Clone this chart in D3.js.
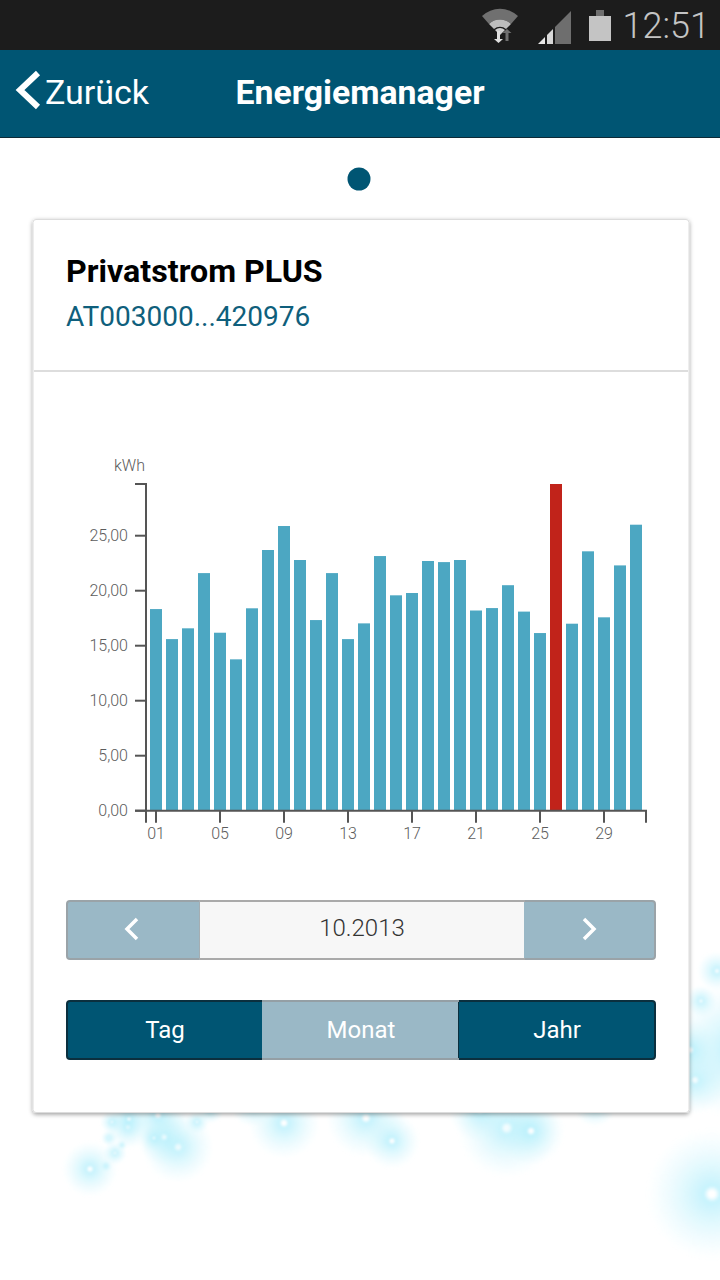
<!DOCTYPE html>
<html><head><meta charset="utf-8">
<script src="https://cdnjs.cloudflare.com/ajax/libs/d3/7.8.5/d3.min.js"></script>
<style>
html,body{margin:0;padding:0;background:#fff;overflow:hidden}
svg{display:block}
text{font-family:Roboto,sans-serif}
</style></head><body>
<script>
const days = ["01","02","03","04","05","06","07","08","09","10","11","12","13","14","15","16","17","18","19","20","21","22","23","24","25","26","27","28","29","30","31"];
const kwh = [18.33,15.6,16.58,21.6,16.18,13.76,18.4,23.7,25.88,22.79,17.33,21.6,15.6,17.03,23.15,19.58,19.79,22.7,22.6,22.79,18.2,18.42,20.5,18.1,16.15,29.7,17.0,23.58,17.58,22.3,26.0];
const peakDay = "26";
const xTickLabels = ["01","05","09","13","17","21","25","29"];
const yTickValues = [0,5,10,15,20,25];
const yMax = 29.7;

const BLUE="#005573", PALE="#9ab8c6", BAR="#4ca7c2", RED="#c1231a", AXIS="#555555";
const svg=d3.select("body").append("svg").attr("width",720).attr("height",1280);
const defs=svg.append("defs");
const grad=defs.append("radialGradient").attr("id","glow");
[[0,"#ffffff",1],[0.05,"#ffffff",.9],[0.13,"#b0eefc",.7],[0.5,"#c2f2fc",.42],[1,"#d8f7fd",0]].forEach(s=>
  grad.append("stop").attr("offset",s[0]).attr("stop-color",s[1]).attr("stop-opacity",s[2]));
const sh=defs.append("filter").attr("id","shadow").attr("x","-5%").attr("y","-5%").attr("width","110%").attr("height","110%");
sh.append("feDropShadow").attr("dx",0).attr("dy",1.5).attr("stdDeviation",2).attr("flood-color","#000").attr("flood-opacity",.38);
const soft=defs.append("filter").attr("id","soft").attr("filterUnits","userSpaceOnUse").attr("x",0).attr("y",900).attr("width",720).attr("height",380);
soft.append("feGaussianBlur").attr("stdDeviation",1.2);

// background glows (decoration behind the card)
const glows=[[90,1169,28],[106,1166,6],[115,1153,12],[109,1138,8],[122,1145,5],[178,1147,36],[164,1137,28],[154,1138,14],[128,1127,22],[129,1119,18],[112,1122,12],[158,1115,30],[197,1122,12],[210,1110,14],[284,1123,36],[252,1105,22],[366,1118,40],[392,1141,28],[507,1128,50],[531,1131,34],[480,1110,32],[595,1105,22],[712,1194,66],[717,971,20],[701,1001,16],[695,1080,34],[735,1050,68],[690,1050,30]];
svg.append("g").attr("filter","url(#soft)").selectAll("circle").data(glows).join("circle")
  .attr("cx",d=>d[0]).attr("cy",d=>d[1]).attr("r",d=>d[2]).attr("fill","url(#glow)");

// status bar
svg.append("rect").attr("width",720).attr("height",50).attr("fill","#1c1c1c");
const st=svg.append("g");
st.append("path").attr("d","M482 16 A26 26 0 0 1 518 16 L511 24 A16 16 0 0 0 489 24 Z").attr("fill","#707070");
st.append("path").attr("d","M489 24 A16 16 0 0 1 511 24 L506 29 A9 9 0 0 0 494 29 Z").attr("fill","#bdbdbd");
st.append("path").attr("d","M495 30 A8 8 0 0 1 505 30 L500 35 Z").attr("fill","#d0d0d0");
st.append("path").attr("d","M497 31 h3 v8 h3 l-4.500 4 l-4.500 -4 h3 z").attr("fill","#e0e0e0");
st.append("path").attr("d","M507 29 l4.500 4 h-3 v8 h-3 v-8 h-3 z").attr("fill","#707070");
st.append("path").attr("d","M538 44 L545 37 V44 Z").attr("fill","#e8e8e8");
st.append("path").attr("d","M547 35 L553 29 V44 H547 Z").attr("fill","#d8d8d8");
st.append("path").attr("d","M555 27 L571 11 V44 H555 Z").attr("fill","#6e6e6e");
st.append("rect").attr("x",589).attr("y",16).attr("width",22).attr("height",25).attr("fill","#c4c4c4");
st.append("rect").attr("x",596).attr("y",10).attr("width",8).attr("height",6).attr("fill","#6e6e6e");
st.append("text").attr("x",710).attr("y",38).attr("text-anchor","end").attr("font-size",36).attr("font-weight",300).attr("fill","#c4c4c4").text("12:51");

// title bar
svg.append("rect").attr("y",50).attr("width",720).attr("height",87).attr("fill",BLUE);
svg.append("rect").attr("y",137).attr("width",720).attr("height",1).attr("fill","#0d2a36");
svg.append("path").attr("d","M38 73 L20 90 L38 107").attr("fill","none").attr("stroke","#fff").attr("stroke-width",6);
svg.append("text").attr("x",45).attr("y",104).attr("font-size",34).attr("fill","#fff").text("Zurück");
svg.append("text").attr("x",360).attr("y",104).attr("text-anchor","middle").attr("font-size",33.800).attr("font-weight",700).attr("fill","#fff").text("Energiemanager");
svg.append("circle").attr("cx",359).attr("cy",179).attr("r",11.500).attr("fill",BLUE);

// card
svg.append("rect").attr("x",33).attr("y",219.500).attr("width",656).attr("height",893).attr("rx",3).attr("fill","#fff").attr("stroke","#dcdcdc").attr("filter","url(#shadow)");
svg.append("rect").attr("x",34).attr("y",370).attr("width",654).attr("height",2).attr("fill","#dddddd");
svg.append("text").attr("x",66).attr("y",282).attr("font-size",32.200).attr("font-weight",700).attr("fill","#000").text("Privatstrom PLUS");
svg.append("text").attr("x",66).attr("y",326).attr("font-size",28).attr("fill","#0f5f7c").text("AT003000...420976");

// chart
const x=d3.scaleBand().domain(days).range([146,646]).paddingInner(.25).paddingOuter(.25);
const y=d3.scaleLinear().domain([0,yMax]).range([810.7,484]);
svg.append("g").selectAll("rect").data(kwh).join("rect")
  .attr("x",(d,i)=>x(days[i])).attr("width",x.bandwidth())
  .attr("y",d=>y(d)).attr("height",d=>y(0)-y(d))
  .attr("fill",(d,i)=>days[i]===peakDay?RED:BAR);

const fmt=d=>d.toFixed(2).replace(".",",");
const gy=svg.append("g").attr("transform","translate(146,0)")
  .call(d3.axisLeft(y).tickValues(yTickValues).tickFormat(fmt).tickSize(11).tickPadding(7).offset(0));
const gx=svg.append("g").attr("transform","translate(0,810.700)")
  .call(d3.axisBottom(x).tickValues(xTickLabels).tickSize(12).tickPadding(5).offset(0));
[gy,gx].forEach(g=>{
  g.attr("font-family","Roboto,sans-serif").attr("font-size",16);
  g.selectAll("path,line").attr("stroke",AXIS).attr("stroke-width",2);
  g.selectAll("text").attr("fill","#5c5c5c").attr("font-weight",300).attr("font-family","Roboto,sans-serif");
});
svg.append("text").attr("x",145).attr("y",471).attr("text-anchor","end").attr("font-size",16).attr("font-weight",300).attr("fill","#5c5c5c").text("kWh");

// month selector
svg.append("rect").attr("x",67).attr("y",901).attr("width",588).attr("height",58).attr("rx",3).attr("fill",PALE).attr("stroke","#9aa3a8").attr("stroke-width",2);
svg.append("rect").attr("x",200).attr("y",902).attr("width",324).attr("height",56).attr("fill","#f7f7f7");
svg.append("rect").attr("x",199).attr("y",900).attr("width",326).attr("height",2).attr("fill","#aaaaaa");
svg.append("rect").attr("x",199).attr("y",958).attr("width",326).attr("height",2).attr("fill","#aaaaaa");
svg.append("rect").attr("x",199).attr("y",900).attr("width",1).attr("height",60).attr("fill","#a4aeb3");
svg.append("path").attr("d","M137 919 L127 929 L137 939").attr("fill","none").attr("stroke","#fff").attr("stroke-width",3.500);
svg.append("path").attr("d","M584 919 L594 929 L584 939").attr("fill","none").attr("stroke","#fff").attr("stroke-width",3.500);
svg.append("text").attr("x",362).attr("y",936).attr("text-anchor","middle").attr("font-size",24).attr("font-weight",300).attr("fill","#333").text("10.2013");

// period tabs
svg.append("rect").attr("x",67).attr("y",1001).attr("width",588).attr("height",58).attr("rx",3).attr("fill",BLUE).attr("stroke","#0b2f3e").attr("stroke-width",2);
svg.append("rect").attr("x",262).attr("y",1000).attr("width",197).attr("height",60).attr("fill",PALE);
svg.append("rect").attr("x",262).attr("y",1000).attr("width",197).attr("height",2).attr("fill","#949fa5");
svg.append("rect").attr("x",262).attr("y",1058).attr("width",197).attr("height",2).attr("fill","#949fa5");
svg.append("rect").attr("x",458).attr("y",1002).attr("width",1).attr("height",56).attr("fill","#0b2f3e");
[["Tag",165],["Monat",361],["Jahr",557]].forEach(t=>
  svg.append("text").attr("x",t[1]).attr("y",1038).attr("text-anchor","middle").attr("font-size",24).attr("fill","#fff").text(t[0]));
</script>
</body></html>
